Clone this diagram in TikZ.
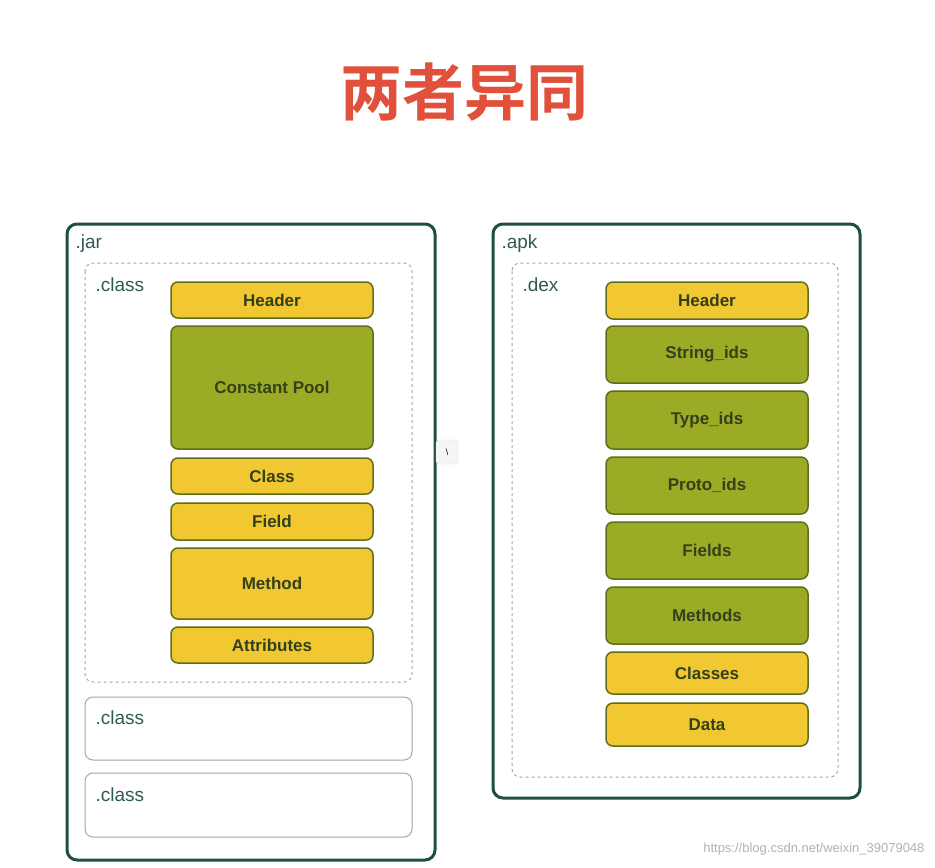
\documentclass[tikz,border=0pt]{standalone}
\usepackage{fontspec}
\setmainfont{Liberation Sans}
\newfontfamily\cjk{Noto Sans CJK SC}[BoldFont={Noto Sans CJK SC Bold}]
\definecolor{ylw}{HTML}{F1C832}
\definecolor{olv}{HTML}{9CAB25}
\definecolor{bdr}{HTML}{5E6E1C}
\definecolor{txt}{HTML}{34401A}
\definecolor{outer}{HTML}{1E4E44}
\definecolor{ttl}{HTML}{E0503A}
\definecolor{lbl}{HTML}{2F5A55}
\tikzset{
  outbox/.style={draw=outer,line width=3pt,rounded corners=10pt,fill=white},
  inbox/.style={draw=gray!70,dashed,line width=1pt,rounded corners=8pt},
  clbox/.style={draw=gray!70,line width=1pt,rounded corners=8pt},
  yb/.style={draw=bdr,line width=1.5pt,rounded corners=7pt,fill=ylw},
  ob/.style={yb,fill=olv},
  btxt/.style={text=txt,font=\bfseries\fontsize{17}{19}\selectfont},
  lab/.style={anchor=west,text=lbl,font=\fontsize{19}{21}\selectfont}
}
\begin{document}
\begin{tikzpicture}[x=1pt,y=-1pt]
\useasboundingbox (0,0) rectangle (935,868);
\node (title) at (464,92) {\cjk\bfseries\color{ttl}\fontsize{62}{68}\selectfont 两者异同};
% jar
\draw[outbox] (67,224) rectangle (435,860);
\node[lab] (jar) at (72,244) {.jar};
\draw[inbox] (85,263) rectangle (412,682);
\node[lab] (c1) at (92,285) {.class};
\draw[clbox] (85,697) rectangle (412,760);
\node[lab] (c2) at (92,718) {.class};
\draw[clbox] (85,773) rectangle (412,837);
\node[lab] (c3) at (92,795) {.class};
\foreach \n/\a/\b/\s in {Header/282/318/yb, Constant Pool/326/449/ob, Class/458/494/yb, Field/503/540/yb, Method/548/619/yb, Attributes/627/663/yb}{
  \draw[\s] (171,\a) rectangle (373,\b);
  \node[btxt] (L\a) at (272,{(\a+\b)/2}) {\n};
}
% apk
\draw[outbox] (493,224) rectangle (860,798);
\node[lab] (apk) at (498,244) {.apk};
\draw[inbox] (512,263) rectangle (838,777);
\node[lab] (dex) at (519,285) {.dex};
\foreach \n/\a/\b/\s in {Header/282/319/yb, String\_ids/326/383/ob, Type\_ids/391/449/ob, Proto\_ids/457/514/ob, Fields/522/579/ob, Methods/587/644/ob, Classes/652/694/yb, Data/703/746/yb}{
  \draw[\s] (606,\a) rectangle (808,\b);
  \node[btxt] (R\a) at (707,{(\a+\b)/2}) {\n};
}
\node[draw=gray!30,fill=gray!8,rounded corners=3pt,minimum width=22pt,minimum height=24pt,font=\small] (btn) at (447,452) {\textbackslash};
\node[anchor=east,text=gray!60,font=\fontsize{13}{15}\selectfont] (wm) at (928,849) {https://blog.csdn.net/weixin\_39079048};
\end{tikzpicture}
\end{document}
